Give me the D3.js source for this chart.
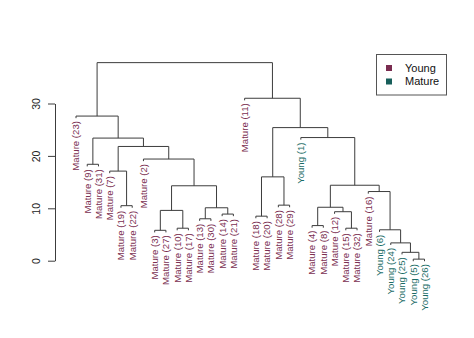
<!DOCTYPE html>
<html><head><meta charset="utf-8">
<script src="https://cdnjs.cloudflare.com/ajax/libs/d3/7.8.5/d3.min.js"></script>
<style>body{margin:0;background:#fff}svg{display:block}</style>
</head><body><svg id="c" width="474" height="338"></svg>
<script>
// Leaves in display order
const leafLabels = ["Mature (23)","Mature (9)","Mature (31)","Mature (7)","Mature (19)","Mature (22)","Mature (2)",
  "Mature (3)","Mature (27)","Mature (10)","Mature (17)","Mature (13)","Mature (30)","Mature (14)","Mature (21)",
  "Mature (11)","Mature (18)","Mature (20)","Mature (28)","Mature (29)","Young (1)","Mature (4)","Mature (8)",
  "Mature (12)","Mature (15)","Mature (32)","Mature (16)","Young (6)","Young (24)","Young (25)","Young (5)","Young (26)"];
const leafGroups = leafLabels.map(s => s.split(" ")[0]);
// Merge matrix (R hclust style: negative = leaf position, positive = earlier merge)
const merges = [
  [-31,-32],[-30,1],[-29,2],[-28,3],[-8,-9],[-25,-26],[-10,-11],[-22,-23],[-12,-13],[-17,-18],[-14,-15],
  [-24,6],[5,7],[9,11],[8,12],[-5,-6],[-19,-20],[-27,4],[13,14],[15,18],[10,17],[-4,16],[-2,-3],[-7,19],
  [22,24],[23,25],[-21,20],[21,27],[-1,26],[-16,28],[29,30]
];
const heights = [0.3,1.6,3.4,5.9,5.8,6.2,6.2,6.7,8.0,8.5,8.9,9.35,9.6,10.1,10.2,10.5,10.6,13.2,14.3,14.4,16.0,
  17.1,18.4,19.4,21.8,23.4,23.5,25.4,27.6,31.0,37.8];
const yTicks = [0,10,20,30];
const legendLabels = ["Young","Mature"];
const legendColors = ["#7a2c50","#175e5a"];
const labelColor = {Mature:"#7b3052", Young:"#1a6c66"};

const svg = d3.select("#c");
const x = d3.scaleLinear().domain([1,32]).range([76,424.5]);
const y = d3.scaleLinear().domain([0,30]).range([260.7,103.5]);
const hang = 0.4;
const lineCol = "#3c3c3c";

const nodeX = [];
function cx(id){ return id < 0 ? x(-id) : nodeX[id-1]; }
const g = svg.append("g").attr("fill","none").attr("stroke",lineCol).attr("stroke-width",1);
const leafTop = {};
merges.forEach((m,i) => {
  const h = heights[i];
  const xs = m.map(cx);
  nodeX[i] = (xs[0]+xs[1])/2;
  g.append("line").attr("x1",xs[0]).attr("x2",xs[1]).attr("y1",y(h)).attr("y2",y(h));
  m.forEach((c,k) => {
    const ch = c < 0 ? h - hang : heights[c-1];
    g.append("line").attr("x1",xs[k]).attr("x2",xs[k]).attr("y1",y(h)).attr("y2",y(ch));
    if (c < 0) leafTop[-c] = h;
  });
});
// top stub above root? none in R plot
svg.append("g").selectAll("text").data(leafLabels).join("text")
  .attr("transform",(d,i)=>`translate(${x(i+1)},${y(leafTop[i+1])+5}) rotate(-90)`)
  .attr("text-anchor","end").attr("dy","0.35em")
  .attr("font-family","Liberation Sans, Arial, sans-serif").attr("font-size",9.6)
  .attr("fill",(d,i)=>labelColor[leafGroups[i]])
  .text(d=>d);

// Y axis
const ax = svg.append("g").attr("transform","translate(55,0)")
  .call(d3.axisLeft(y).tickValues(yTicks).tickSize(7).tickSizeOuter(0).tickFormat(d3.format("d")));
ax.select(".domain").attr("stroke",lineCol);
ax.selectAll(".tick line").attr("stroke",lineCol);
ax.selectAll(".tick text").attr("x",0).attr("dy","0.35em")
  .attr("transform","translate(-19,0) rotate(-90)").attr("text-anchor","middle")
  .attr("font-family","Liberation Sans, Arial, sans-serif").attr("font-size",10.5).attr("fill","#222");

// Legend
const lg = svg.append("g");
lg.append("rect").attr("x",376.5).attr("y",54.5).attr("width",70).attr("height",40.5)
  .attr("fill","#fff").attr("stroke","#555").attr("stroke-width",1);
legendLabels.forEach((t,i) => {
  lg.append("rect").attr("x",386).attr("y",65+i*13.5).attr("width",6).attr("height",6).attr("fill",legendColors[i]);
  lg.append("text").attr("x",405).attr("y",68+i*13.5).attr("dy","0.35em")
    .attr("font-family","Liberation Sans, Arial, sans-serif").attr("font-size",11).attr("fill","#111").text(t);
});
</script></body></html>
